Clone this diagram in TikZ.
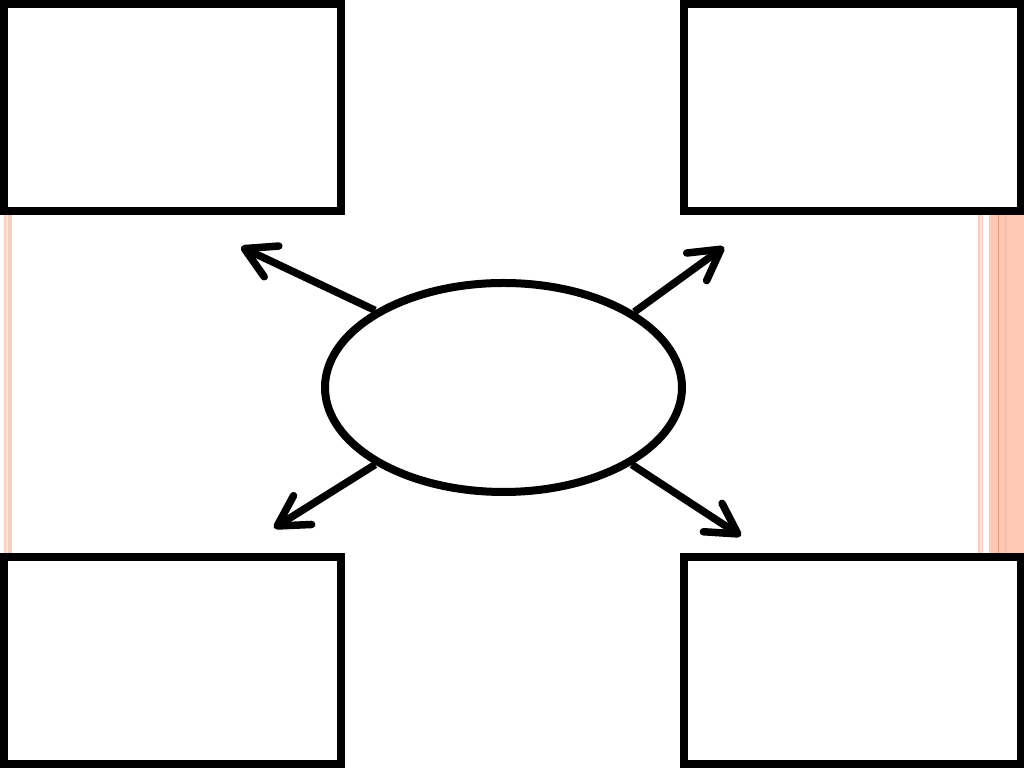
\documentclass[tikz,border=0pt]{standalone}
\usepackage{tikz}
\usetikzlibrary{arrows.meta,shapes.geometric}

\definecolor{bandpink}{RGB}{247,205,191}
\definecolor{bandpale}{RGB}{252,228,219}
\definecolor{bandsalmon}{RGB}{255,201,181}
\definecolor{bandstripe}{RGB}{251,190,168}
\definecolor{bandline}{RGB}{232,154,112}

\begin{document}
\begin{tikzpicture}[
		box/.style={rectangle, draw, fill=white, line width=0.08cm, inner sep=0pt, minimum width=3.37cm, minimum height=2.07cm},
		oval/.style={ellipse, draw, fill=white, line width=0.08cm, inner sep=0pt, minimum width=3.57cm, minimum height=2.09cm},
		spoke/.style={line width=0.075cm, -{Straight Barb[length=0.3cm,width=0.34cm,round]}}]
		\useasboundingbox (0,0) rectangle (10.24,7.68);
		
		% side stripes
		\fill [bandpink] (0.04,0) rectangle (0.12,7.68);
		\fill [bandpale] (0.06,0) rectangle (0.08,7.68);
		\fill [bandpink] (9.78,0) rectangle (9.83,7.68);
		\fill [bandpale] (9.795,0) rectangle (9.815,7.68);
		\fill [bandsalmon] (9.89,0) rectangle (10.24,7.68);
		\fill [bandstripe] (10.04,0) rectangle (10.07,7.68);
		\draw [bandline, line width=0.01cm] (9.98,0) -- (9.98,7.68);
		
		\node[box] (topleft) at (1.725, 6.605) {};
		\node[box] (topright) at (8.52, 6.605) {};
		\node[box] (bottomleft) at (1.725, 1.075) {};
		\node[box] (bottomright) at (8.52, 1.075) {};
		\node[oval] (centre) at (5.035, 3.805) {};
		
		\coordinate (tipUL) at (2.41, 5.21);
		\coordinate (tipUR) at (7.24, 5.21);
		\coordinate (tipBL) at (2.74, 2.40);
		\coordinate (tipBR) at (7.41, 2.32);
		
		\draw [spoke] (centre.149) to (tipUL);
		\draw [spoke] (centre.30) to (tipUR);
		\draw [spoke] (centre.211) to (tipBL);
		\draw [spoke] (centre.329) to (tipBR);
		\end{tikzpicture}
\end{document}
